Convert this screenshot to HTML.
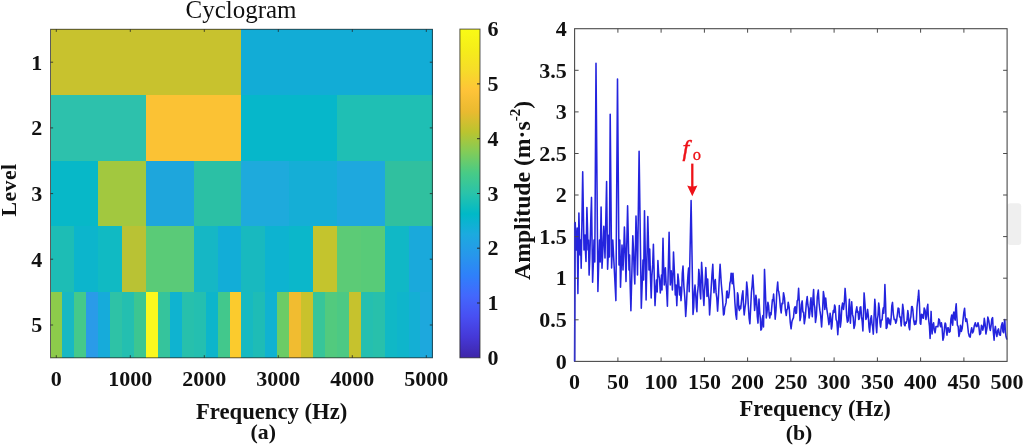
<!DOCTYPE html>
<html lang="en">
<head>
<meta charset="utf-8">
<title>Cyclogram and spectrum</title>
<style>
html,body{margin:0;padding:0;background:#fff;}
body{width:1025px;height:446px;overflow:hidden;}
svg{display:block;}
text{font-family:"Liberation Serif","Times New Roman",serif;fill:#111;}
.b{font-weight:bold;}
</style>
</head>
<body>
<svg width="1025" height="446" viewBox="0 0 1025 446">
<rect x="0" y="0" width="1025" height="446" fill="#ffffff"/>

<g shape-rendering="crispEdges">
<rect x="50.50" y="29.30" width="191.35" height="66.10" fill="#C8C22E"/>
<rect x="241.45" y="29.30" width="191.35" height="66.10" fill="#12ACD6"/>
<rect x="50.50" y="95.00" width="95.88" height="66.10" fill="#2DC1AC"/>
<rect x="145.97" y="95.00" width="95.88" height="66.10" fill="#FBC234"/>
<rect x="241.45" y="95.00" width="95.88" height="66.10" fill="#06B7CA"/>
<rect x="336.92" y="95.00" width="95.88" height="66.10" fill="#1FBFB4"/>
<rect x="50.50" y="160.70" width="48.14" height="66.10" fill="#07B8C8"/>
<rect x="98.24" y="160.70" width="48.14" height="66.10" fill="#A2C83F"/>
<rect x="145.97" y="160.70" width="48.14" height="66.10" fill="#1EA6DC"/>
<rect x="193.71" y="160.70" width="48.14" height="66.10" fill="#2BC0A5"/>
<rect x="241.45" y="160.70" width="48.14" height="66.10" fill="#1EAADC"/>
<rect x="289.19" y="160.70" width="48.14" height="66.10" fill="#15AED6"/>
<rect x="336.92" y="160.70" width="48.14" height="66.10" fill="#1EA8DE"/>
<rect x="384.66" y="160.70" width="48.14" height="66.10" fill="#30C09F"/>
<rect x="50.50" y="226.40" width="24.27" height="66.10" fill="#1DBDB5"/>
<rect x="74.37" y="226.40" width="24.27" height="66.10" fill="#0CB5CC"/>
<rect x="98.24" y="226.40" width="24.27" height="66.10" fill="#10BAC3"/>
<rect x="122.11" y="226.40" width="24.27" height="66.10" fill="#B9C234"/>
<rect x="145.97" y="226.40" width="24.27" height="66.10" fill="#5ACB77"/>
<rect x="169.84" y="226.40" width="24.27" height="66.10" fill="#5ACA78"/>
<rect x="193.71" y="226.40" width="24.27" height="66.10" fill="#15B7C5"/>
<rect x="217.58" y="226.40" width="24.27" height="66.10" fill="#12ADD7"/>
<rect x="241.45" y="226.40" width="24.27" height="66.10" fill="#18B9BF"/>
<rect x="265.32" y="226.40" width="24.27" height="66.10" fill="#0DB3D0"/>
<rect x="289.19" y="226.40" width="24.27" height="66.10" fill="#0BB7CA"/>
<rect x="313.06" y="226.40" width="24.27" height="66.10" fill="#C4C42D"/>
<rect x="336.92" y="226.40" width="24.27" height="66.10" fill="#5CCB76"/>
<rect x="360.79" y="226.40" width="24.27" height="66.10" fill="#58CB78"/>
<rect x="384.66" y="226.40" width="24.27" height="66.10" fill="#10B8C6"/>
<rect x="408.53" y="226.40" width="24.27" height="66.10" fill="#1AA9DB"/>
<rect x="50.50" y="292.10" width="12.33" height="66.10" fill="#8DCB4B"/>
<rect x="62.43" y="292.10" width="12.33" height="66.10" fill="#18B8C3"/>
<rect x="74.37" y="292.10" width="12.33" height="66.10" fill="#45C98A"/>
<rect x="86.30" y="292.10" width="12.33" height="66.10" fill="#2A9BE8"/>
<rect x="98.24" y="292.10" width="12.33" height="66.10" fill="#16ABDA"/>
<rect x="110.17" y="292.10" width="12.33" height="66.10" fill="#2EC2A6"/>
<rect x="122.11" y="292.10" width="12.33" height="66.10" fill="#24BFB0"/>
<rect x="134.04" y="292.10" width="12.33" height="66.10" fill="#3CC691"/>
<rect x="145.97" y="292.10" width="12.33" height="66.10" fill="#FBF81E"/>
<rect x="157.91" y="292.10" width="12.33" height="66.10" fill="#35C49C"/>
<rect x="169.84" y="292.10" width="12.33" height="66.10" fill="#0FB3D0"/>
<rect x="181.78" y="292.10" width="12.33" height="66.10" fill="#27C0AC"/>
<rect x="193.71" y="292.10" width="12.33" height="66.10" fill="#24BFB0"/>
<rect x="205.65" y="292.10" width="12.33" height="66.10" fill="#0DB5CB"/>
<rect x="217.58" y="292.10" width="12.33" height="66.10" fill="#42C88C"/>
<rect x="229.52" y="292.10" width="12.33" height="66.10" fill="#FBCB2D"/>
<rect x="241.45" y="292.10" width="12.33" height="66.10" fill="#17B9C1"/>
<rect x="253.38" y="292.10" width="12.33" height="66.10" fill="#1EBCB6"/>
<rect x="265.32" y="292.10" width="12.33" height="66.10" fill="#10B2D1"/>
<rect x="277.25" y="292.10" width="12.33" height="66.10" fill="#6BCC66"/>
<rect x="289.19" y="292.10" width="12.33" height="66.10" fill="#F1BC30"/>
<rect x="301.12" y="292.10" width="12.33" height="66.10" fill="#C9C22C"/>
<rect x="313.06" y="292.10" width="12.33" height="66.10" fill="#37C59A"/>
<rect x="324.99" y="292.10" width="12.33" height="66.10" fill="#52CA7E"/>
<rect x="336.92" y="292.10" width="12.33" height="66.10" fill="#4CC984"/>
<rect x="348.86" y="292.10" width="12.33" height="66.10" fill="#C6C22D"/>
<rect x="360.79" y="292.10" width="12.33" height="66.10" fill="#25BFB0"/>
<rect x="372.73" y="292.10" width="12.33" height="66.10" fill="#28C0AB"/>
<rect x="384.66" y="292.10" width="12.33" height="66.10" fill="#10B8C6"/>
<rect x="396.60" y="292.10" width="12.33" height="66.10" fill="#0FB5CB"/>
<rect x="408.53" y="292.10" width="12.33" height="66.10" fill="#14AFD4"/>
<rect x="420.47" y="292.10" width="12.33" height="66.10" fill="#1DA8DD"/>
</g>
<rect x="50.5" y="29.3" width="381.90" height="328.50" fill="none" stroke="#262626" stroke-opacity="0.75" stroke-width="1"/>
<path d="M56.3,357.8 v-2.6 M56.3,29.3 v2.6 M130.3,357.8 v-2.6 M130.3,29.3 v2.6 M204.3,357.8 v-2.6 M204.3,29.3 v2.6 M278.3,357.8 v-2.6 M278.3,29.3 v2.6 M352.3,357.8 v-2.6 M352.3,29.3 v2.6 M426.3,357.8 v-2.6 M426.3,29.3 v2.6 M50.5,62.2 h2.6 M432.4,62.2 h-2.6 M50.5,127.9 h2.6 M432.4,127.9 h-2.6 M50.5,193.6 h2.6 M432.4,193.6 h-2.6 M50.5,259.2 h2.6 M432.4,259.2 h-2.6 M50.5,325.0 h2.6 M432.4,325.0 h-2.6" stroke="#262626" stroke-opacity="0.8" stroke-width="1" fill="none"/>
<text x="241" y="18.4" font-size="25" text-anchor="middle">Cyclogram</text>
<text class="b" x="42.3" y="69.5" font-size="22" text-anchor="end">1</text>
<text class="b" x="42.3" y="135.2" font-size="22" text-anchor="end">2</text>
<text class="b" x="42.3" y="200.9" font-size="22" text-anchor="end">3</text>
<text class="b" x="42.3" y="266.6" font-size="22" text-anchor="end">4</text>
<text class="b" x="42.3" y="332.3" font-size="22" text-anchor="end">5</text>
<text class="b" x="56.3" y="386.2" font-size="22" text-anchor="middle">0</text>
<text class="b" x="130.3" y="386.2" font-size="22" text-anchor="middle">1000</text>
<text class="b" x="204.3" y="386.2" font-size="22" text-anchor="middle">2000</text>
<text class="b" x="278.3" y="386.2" font-size="22" text-anchor="middle">3000</text>
<text class="b" x="352.3" y="386.2" font-size="22" text-anchor="middle">4000</text>
<text class="b" x="426.3" y="386.2" font-size="22" text-anchor="middle">5000</text>
<text class="b" x="271.7" y="419.3" font-size="22.7" text-anchor="middle">Frequency (Hz)</text>
<text class="b" x="263.3" y="439.4" font-size="21.8" text-anchor="middle">(a)</text>
<text class="b" transform="translate(15.8,190.2) rotate(-90)" font-size="21.8" textLength="52.6" lengthAdjust="spacing" text-anchor="middle">Level</text>
<defs><linearGradient id="parula" x1="0" y1="1" x2="0" y2="0">
<stop offset="0" stop-color="#3E26A8"/>
<stop offset="0.0625" stop-color="#4538D7"/>
<stop offset="0.125" stop-color="#484FF2"/>
<stop offset="0.1875" stop-color="#4367FD"/>
<stop offset="0.25" stop-color="#2F80FA"/>
<stop offset="0.3125" stop-color="#2797EB"/>
<stop offset="0.375" stop-color="#1CAADF"/>
<stop offset="0.4375" stop-color="#00B9C7"/>
<stop offset="0.5" stop-color="#29C3AA"/>
<stop offset="0.5625" stop-color="#48CB86"/>
<stop offset="0.625" stop-color="#81CC59"/>
<stop offset="0.6875" stop-color="#BBC42F"/>
<stop offset="0.75" stop-color="#EABA30"/>
<stop offset="0.8125" stop-color="#FEC338"/>
<stop offset="0.875" stop-color="#F6DC29"/>
<stop offset="0.9375" stop-color="#F5ED1A"/>
<stop offset="1" stop-color="#F9FB15"/>
</linearGradient></defs>
<rect x="459.9" y="29.1" width="20.1" height="328.7" fill="url(#parula)" stroke="#262626" stroke-opacity="0.75" stroke-width="1"/>
<text class="b" x="487.6" y="365.0" font-size="22">0</text>
<text class="b" x="487.6" y="310.2" font-size="22">1</text>
<text class="b" x="487.6" y="255.4" font-size="22">2</text>
<text class="b" x="487.6" y="200.7" font-size="22">3</text>
<text class="b" x="487.6" y="145.9" font-size="22">4</text>
<text class="b" x="487.6" y="91.1" font-size="22">5</text>
<text class="b" x="487.6" y="36.3" font-size="22">6</text>
<path d="M480.0,303.0 h-3 M480.0,248.2 h-3 M480.0,193.5 h-3 M480.0,138.7 h-3 M480.0,83.9 h-3" stroke="#262626" stroke-width="1" fill="none"/>
<rect x="1007.4" y="203.2" width="13.8" height="41.8" rx="3" fill="#efefef"/>
<path d="M574.6,361.4 L575.2,222.5 L576.3,250.0 L577.2,228.0 L577.9,293.6 L578.9,213.0 L579.5,237.2 L580.0,255.0 L580.6,240.0 L581.2,268.2 L582.7,171.8 L584.0,250.0 L584.5,240.4 L585.0,235.0 L585.5,251.4 L586.0,261.4 L586.9,207.5 L587.5,227.2 L588.0,250.0 L588.5,240.0 L589.1,275.1 L589.7,260.3 L590.3,240.0 L590.9,216.0 L591.5,197.4 L592.6,282.2 L593.3,264.1 L594.0,240.0 L594.8,262.0 L596.0,63.2 L597.9,291.4 L598.7,263.4 L599.5,240.0 L600.2,262.0 L601.1,207.0 L602.0,268.2 L602.9,249.2 L603.8,226.3 L604.4,239.8 L605.0,258.0 L606.6,181.6 L607.6,269.3 L608.2,255.8 L608.8,235.0 L609.4,257.0 L610.2,114.2 L611.6,268.0 L612.2,252.3 L612.8,240.0 L615.9,300.6 L617.5,79.1 L619.0,265.0 L619.8,240.0 L620.5,287.2 L621.2,268.2 L622.0,245.0 L622.5,254.4 L623.0,270.0 L623.7,252.1 L624.4,227.0 L625.2,250.1 L626.0,281.6 L627.6,205.8 L629.0,270.0 L629.6,255.0 L630.2,286.5 L630.9,310.7 L632.8,235.7 L633.5,249.2 L634.1,270.7 L634.8,284.0 L636.0,216.0 L636.8,242.4 L637.5,275.0 L639.1,151.3 L641.3,308.2 L642.1,286.0 L643.0,260.0 L643.6,280.0 L644.5,210.8 L646.1,299.9 L647.8,216.5 L648.4,239.9 L649.0,270.0 L649.7,249.0 L650.5,276.8 L651.2,298.0 L651.9,276.0 L652.7,264.4 L653.4,244.3 L655.0,305.6 L655.8,290.3 L656.5,280.0 L657.2,292.0 L657.9,260.5 L658.7,274.7 L659.5,278.7 L660.3,293.0 L660.9,285.7 L661.5,275.0 L662.0,290.0 L662.5,262.9 L663.0,238.3 L663.6,265.2 L664.3,285.0 L664.8,275.0 L665.4,267.7 L666.1,283.6 L666.7,291.5 L667.4,306.3 L669.1,232.2 L669.7,261.5 L670.3,285.0 L671.2,270.8 L671.8,277.7 L672.4,290.0 L673.0,273.4 L673.5,252.0 L674.4,271.8 L675.3,295.0 L676.0,285.0 L676.8,305.6 L677.3,292.9 L677.9,274.0 L678.7,281.2 L679.5,295.0 L680.2,287.0 L681.0,300.6 L681.7,291.2 L682.3,273.4 L683.0,266.0 L683.9,286.5 L684.8,297.2 L685.7,316.4 L686.5,304.0 L687.3,285.0 L688.0,274.9 L688.6,268.0 L689.2,291.7 L691.1,200.6 L693.0,314.5 L693.7,307.7 L694.3,292.0 L695.0,285.0 L695.8,296.0 L696.4,307.2 L696.9,311.7 L697.5,293.7 L698.2,285.9 L698.8,269.4 L699.4,275.6 L700.1,292.2 L700.7,299.0 L701.6,262.4 L702.4,275.5 L703.1,293.4 L703.9,305.4 L704.5,291.2 L705.1,283.0 L705.8,267.5 L706.4,279.7 L707.0,296.5 L707.7,279.0 L708.3,292.6 L709.0,299.3 L709.6,314.9 L710.4,302.7 L711.2,287.6 L712.0,274.5 L712.8,264.3 L713.4,280.3 L714.0,292.7 L714.7,282.2 L715.3,279.6 L716.1,292.9 L716.8,297.9 L717.6,311.1 L718.4,297.8 L719.3,278.4 L720.1,264.3 L721.3,283.7 L722.4,295.9 L723.5,314.9 L724.2,314.0 L724.8,307.0 L725.4,305.4 L726.1,302.4 L726.7,291.4 L727.2,291.0 L727.7,297.8 L728.5,297.7 L729.2,292.7 L729.9,283.3 L730.5,281.0 L731.1,273.2 L731.7,274.4 L732.2,283.8 L733.0,273.2 L733.7,284.8 L734.3,290.7 L734.9,302.8 L735.8,314.5 L736.6,319.3 L737.5,292.7 L738.1,295.2 L738.8,308.2 L739.4,310.4 L740.0,306.2 L740.7,308.7 L741.3,302.8 L742.1,295.4 L742.9,290.8 L743.6,307.0 L744.2,314.9 L745.0,307.6 L745.7,302.8 L746.2,294.1 L746.7,282.1 L747.5,289.5 L748.3,305.4 L749.1,317.8 L749.9,323.8 L750.7,306.9 L751.4,292.7 L752.1,285.8 L752.8,275.1 L753.7,289.7 L754.6,310.4 L755.2,304.5 L755.9,295.2 L756.6,300.6 L757.3,316.3 L758.0,323.1 L758.5,307.3 L759.0,299.0 L759.7,312.1 L760.3,318.0 L760.9,330.1 L761.6,328.8 L762.2,319.2 L762.9,315.5 L763.5,326.9 L764.0,301.8 L764.5,269.4 L765.4,291.6 L766.3,318.0 L767.1,311.7 L767.9,302.2 L768.6,305.6 L769.2,315.3 L769.8,318.0 L770.5,312.7 L771.1,314.7 L771.7,307.9 L772.4,299.9 L773.0,300.6 L773.6,294.0 L774.4,304.8 L775.2,319.3 L776.0,310.1 L776.8,291.5 L777.7,282.1 L778.2,290.6 L778.7,291.4 L779.5,296.8 L780.4,307.4 L781.2,313.0 L782.0,303.3 L782.8,303.6 L783.5,292.7 L784.5,297.8 L785.4,310.2 L786.3,315.5 L786.9,309.7 L787.6,308.7 L788.2,302.2 L789.2,307.7 L790.2,321.8 L791.1,328.8 L791.9,321.8 L792.7,319.3 L793.5,317.6 L794.3,308.5 L795.2,306.6 L795.8,313.4 L796.5,313.0 L797.2,300.8 L797.9,299.6 L798.6,288.2 L799.3,301.8 L800.0,320.6 L800.7,316.9 L801.4,304.4 L802.2,300.9 L802.9,312.0 L803.6,312.2 L804.3,323.8 L805.3,317.1 L806.3,303.3 L807.2,296.5 L807.9,305.0 L808.5,308.3 L809.1,318.0 L809.8,313.8 L810.4,302.8 L811.0,297.8 L811.7,310.4 L812.3,316.8 L812.9,299.2 L813.6,289.5 L814.2,304.1 L814.8,307.4 L815.5,322.5 L816.4,315.7 L817.3,296.9 L818.3,290.1 L819.1,303.5 L819.9,310.4 L820.7,316.0 L821.6,326.9 L822.5,312.4 L823.4,291.6 L824.1,296.4 L824.8,309.4 L825.7,298.0 L826.5,306.9 L827.4,313.2 L828.1,317.6 L828.9,324.6 L829.5,321.0 L830.1,313.2 L830.8,318.1 L831.4,329.0 L832.0,326.0 L832.7,315.2 L833.3,310.6 L834.0,312.4 L834.6,305.1 L835.2,306.8 L836.1,319.5 L836.9,321.5 L837.8,334.7 L838.5,323.8 L839.3,305.6 L839.8,314.3 L840.3,327.1 L841.1,320.6 L841.8,307.6 L842.6,303.0 L843.5,309.4 L844.3,302.9 L845.1,288.4 L845.9,299.1 L846.6,315.7 L847.4,322.2 L848.2,320.8 L848.8,308.8 L849.4,299.2 L849.9,314.7 L850.4,323.3 L851.1,309.4 L851.7,301.8 L852.5,314.4 L853.2,317.3 L854.0,328.4 L854.9,324.8 L855.8,312.1 L856.8,306.8 L857.4,312.3 L858.0,311.4 L858.7,319.5 L859.4,318.5 L860.1,307.4 L860.8,306.8 L861.5,316.4 L862.2,321.5 L862.9,330.9 L863.5,313.2 L864.1,292.9 L865.0,304.2 L865.9,319.5 L866.7,317.5 L867.6,309.4 L868.3,315.5 L869.0,327.2 L869.7,332.2 L870.5,320.0 L871.4,315.7 L872.0,323.8 L872.6,326.6 L873.3,334.1 L874.0,318.2 L874.8,299.2 L875.4,306.9 L876.1,325.6 L876.7,332.8 L877.4,319.2 L878.0,315.6 L878.7,303.0 L879.4,309.0 L880.0,322.6 L880.6,327.1 L881.3,320.0 L882.1,319.9 L882.8,310.6 L883.3,307.8 L883.8,313.2 L884.4,301.2 L884.9,284.6 L885.6,303.1 L886.2,328.4 L887.0,327.4 L887.7,318.1 L888.5,318.2 L889.1,323.6 L889.8,320.0 L890.4,324.6 L891.1,318.7 L891.8,305.9 L892.5,302.4 L893.4,314.7 L894.2,319.5 L895.0,319.4 L895.8,323.3 L896.6,320.7 L897.4,314.4 L898.1,308.0 L898.9,308.7 L899.6,316.9 L900.4,317.0 L901.2,325.9 L901.9,316.7 L902.7,304.3 L903.5,310.4 L904.3,324.6 L905.0,325.8 L905.6,322.2 L906.2,323.3 L907.0,320.4 L907.8,310.6 L908.4,314.8 L909.0,327.1 L909.7,329.7 L910.3,319.4 L910.9,316.5 L911.6,306.8 L912.2,306.5 L912.8,309.4 L913.7,320.4 L914.5,324.6 L915.1,321.0 L915.8,324.2 L916.4,320.8 L917.0,307.4 L917.7,300.5 L918.2,296.7 L918.7,290.3 L919.4,303.0 L920.2,323.3 L920.8,324.3 L921.5,314.3 L922.1,314.4 L922.7,317.9 L923.4,318.2 L924.2,308.1 L925.1,310.2 L925.9,319.5 L926.5,316.2 L927.2,307.3 L927.8,304.3 L928.3,316.3 L928.8,320.8 L929.4,325.8 L930.1,338.5 L931.1,311.4 L931.6,326.1 L932.1,334.0 L932.8,325.3 L933.6,322.7 L934.3,330.1 L935.1,332.7 L936.0,326.4 L937.0,326.4 L937.9,326.7 L938.8,318.9 L939.5,320.0 L940.1,325.2 L940.7,326.8 L941.4,322.7 L942.1,327.7 L942.9,340.2 L943.7,337.4 L944.5,327.7 L945.1,323.0 L945.7,323.9 L946.4,331.3 L947.0,335.2 L947.6,328.0 L948.3,327.7 L949.2,332.3 L950.1,331.4 L950.9,319.2 L951.7,315.1 L952.2,322.5 L952.7,325.2 L953.3,314.5 L953.9,312.0 L954.5,318.0 L955.2,320.1 L955.7,308.1 L956.2,303.8 L956.8,315.7 L957.4,325.2 L958.2,326.7 L958.9,336.5 L959.7,333.4 L960.4,325.2 L960.9,326.9 L961.4,331.4 L962.2,328.3 L963.0,320.1 L963.8,312.6 L964.6,308.2 L965.2,316.9 L965.8,321.4 L966.7,318.9 L967.5,324.3 L968.4,332.7 L969.3,336.4 L970.2,337.1 L971.0,330.8 L971.7,327.7 L972.6,332.9 L973.4,331.4 L974.3,325.7 L975.3,322.7 L976.2,326.6 L977.1,326.4 L978.0,322.7 L978.8,326.2 L979.7,334.6 L980.6,333.5 L981.5,325.2 L982.2,326.5 L982.8,330.2 L983.6,326.5 L984.3,318.3 L985.1,323.9 L985.9,334.0 L986.9,328.6 L987.8,317.0 L988.8,320.6 L989.7,327.7 L990.3,330.4 L991.0,326.4 L991.8,319.2 L992.6,317.6 L993.3,331.7 L994.1,340.2 L994.7,330.4 L995.4,326.4 L996.1,332.7 L996.9,336.5 L997.7,330.6 L998.5,328.9 L999.4,334.8 L1000.4,335.2 L1001.3,326.2 L1002.3,322.7 L1002.9,331.4 L1003.5,332.7 L1004.1,324.1 L1004.8,319.5 L1005.4,332.0 L1006.0,336.5 L1006.9,339.6" fill="none" stroke="#2424de" stroke-width="1.55" stroke-linejoin="round"/>
<rect x="574.6" y="28.7" width="432.5" height="332.7" fill="none" stroke="#4a4a4a" stroke-width="1.1"/>
<path d="M574.6,361.4 V222.5" stroke="#3434c8" stroke-width="1.3" fill="none"/>
<text class="b" x="574.6" y="388.7" font-size="22" text-anchor="middle">0</text>
<text class="b" x="617.9" y="388.7" font-size="22" text-anchor="middle">50</text>
<text class="b" x="661.1" y="388.7" font-size="22" text-anchor="middle">100</text>
<text class="b" x="704.4" y="388.7" font-size="22" text-anchor="middle">150</text>
<text class="b" x="747.6" y="388.7" font-size="22" text-anchor="middle">200</text>
<text class="b" x="790.9" y="388.7" font-size="22" text-anchor="middle">250</text>
<text class="b" x="834.1" y="388.7" font-size="22" text-anchor="middle">300</text>
<text class="b" x="877.4" y="388.7" font-size="22" text-anchor="middle">350</text>
<text class="b" x="920.6" y="388.7" font-size="22" text-anchor="middle">400</text>
<text class="b" x="963.9" y="388.7" font-size="22" text-anchor="middle">450</text>
<text class="b" x="1007.1" y="388.7" font-size="22" text-anchor="middle">500</text>
<text class="b" x="566.8" y="368.6" font-size="22" text-anchor="end">0</text>
<text class="b" x="566.8" y="327.0" font-size="22" text-anchor="end">0.5</text>
<text class="b" x="566.8" y="285.4" font-size="22" text-anchor="end">1</text>
<text class="b" x="566.8" y="243.8" font-size="22" text-anchor="end">1.5</text>
<text class="b" x="566.8" y="202.2" font-size="22" text-anchor="end">2</text>
<text class="b" x="566.8" y="160.7" font-size="22" text-anchor="end">2.5</text>
<text class="b" x="566.8" y="119.1" font-size="22" text-anchor="end">3</text>
<text class="b" x="566.8" y="77.5" font-size="22" text-anchor="end">3.5</text>
<text class="b" x="566.8" y="35.9" font-size="22" text-anchor="end">4</text>
<path d="M617.9,361.4 v-4 M617.9,28.7 v4 M661.1,361.4 v-4 M661.1,28.7 v4 M704.4,361.4 v-4 M704.4,28.7 v4 M747.6,361.4 v-4 M747.6,28.7 v4 M790.9,361.4 v-4 M790.9,28.7 v4 M834.1,361.4 v-4 M834.1,28.7 v4 M877.4,361.4 v-4 M877.4,28.7 v4 M920.6,361.4 v-4 M920.6,28.7 v4 M963.9,361.4 v-4 M963.9,28.7 v4 M574.6,319.8 h4 M1007.1,319.8 h-4 M574.6,278.2 h4 M1007.1,278.2 h-4 M574.6,236.6 h4 M1007.1,236.6 h-4 M574.6,195.0 h4 M1007.1,195.0 h-4 M574.6,153.5 h4 M1007.1,153.5 h-4 M574.6,111.9 h4 M1007.1,111.9 h-4 M574.6,70.3 h4 M1007.1,70.3 h-4" stroke="#4a4a4a" stroke-width="1" fill="none"/>
<text class="b" x="815.1" y="416.1" font-size="22.7" text-anchor="middle">Frequency (Hz)</text>
<text class="b" x="799" y="439.5" font-size="21.8" text-anchor="middle">(b)</text>
<text class="b" transform="translate(530.2,279.9) rotate(-90)" font-size="23.7">Amplitude (m·s<tspan font-size="15" dy="-10.5">-2</tspan><tspan dy="10.5">)</tspan></text>
<text x="682.6" y="155.8" font-size="24" style="font-style:italic;fill:#ee1218;stroke:#ee1218;stroke-width:0.45">f</text>
<text x="692.8" y="159.6" font-size="16.5" style="fill:#ee1218;stroke:#ee1218;stroke-width:0.3">o</text>
<path d="M692.3,163.6 V188" stroke="#ee1218" stroke-width="2.3" fill="none"/>
<path d="M687.2,185.6 Q692.3,187.6 697.4,185.6 L692.3,196.2 Z" fill="#ee1218"/>
</svg>
</body>
</html>
